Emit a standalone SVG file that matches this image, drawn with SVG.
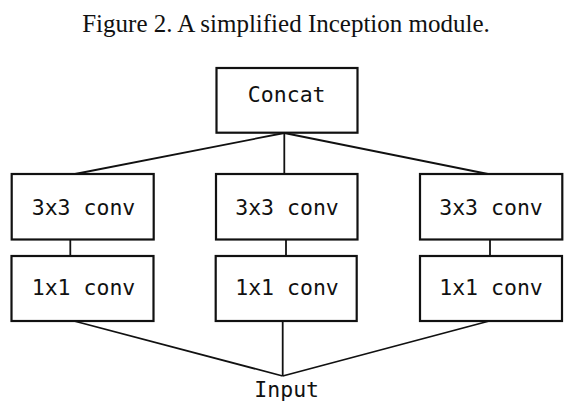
<svg xmlns="http://www.w3.org/2000/svg" width="577" height="405" viewBox="0 0 577 405">
<style>
.box{fill:#fff;stroke:#111;stroke-width:2.2}
.lbl{font-family:"DejaVu Sans Mono","Liberation Mono",monospace;font-size:21.5px;fill:#111;text-anchor:middle}
.conn line{stroke:#111;stroke-width:1.8;fill:none}
.title{font-family:"Liberation Serif","Times New Roman",serif;font-size:25px;fill:#111;text-anchor:middle}
</style>
<rect width="577" height="405" fill="#fff"/>
<text class="title" x="286" y="32">Figure 2. A simplified Inception module.</text>
<g class="conn">
<line x1="284.3" y1="133" x2="75" y2="174"/>
<line x1="284.3" y1="133" x2="284.3" y2="174"/>
<line x1="284.3" y1="133" x2="488" y2="174"/>
<line x1="70.3" y1="239.5" x2="70.3" y2="256"/>
<line x1="286" y1="239.5" x2="286" y2="256"/>
<line x1="490" y1="239.5" x2="490" y2="256"/>
<line x1="74" y1="321" x2="282.7" y2="376"/>
<line x1="282.7" y1="321" x2="282.7" y2="376"/>
<line x1="489.3" y1="321" x2="282.7" y2="376"/>
</g>
<g id="concat"><rect class="box" x="216.5" y="68" width="141" height="64.7"/><text class="lbl" x="286.7" y="101.7">Concat</text></g>
<g id="conv3x3_1"><rect class="box" x="11.7" y="174" width="142" height="65.5"/><text class="lbl" x="83.5" y="215">3x3 conv</text></g>
<g id="conv3x3_2"><rect class="box" x="216" y="174" width="141.5" height="65.5"/><text class="lbl" x="287" y="215">3x3 conv</text></g>
<g id="conv3x3_3"><rect class="box" x="420" y="174" width="142.3" height="65.5"/><text class="lbl" x="491" y="215">3x3 conv</text></g>
<g id="conv1x1_1"><rect class="box" x="11.5" y="256" width="142" height="65"/><text class="lbl" x="83.5" y="295">1x1 conv</text></g>
<g id="conv1x1_2"><rect class="box" x="215.7" y="256" width="141" height="65"/><text class="lbl" x="287" y="295">1x1 conv</text></g>
<g id="conv1x1_3"><rect class="box" x="420" y="256" width="142" height="65"/><text class="lbl" x="491" y="295">1x1 conv</text></g>
<g id="input"><text class="lbl" x="286.7" y="396.7">Input</text></g>
</svg>
